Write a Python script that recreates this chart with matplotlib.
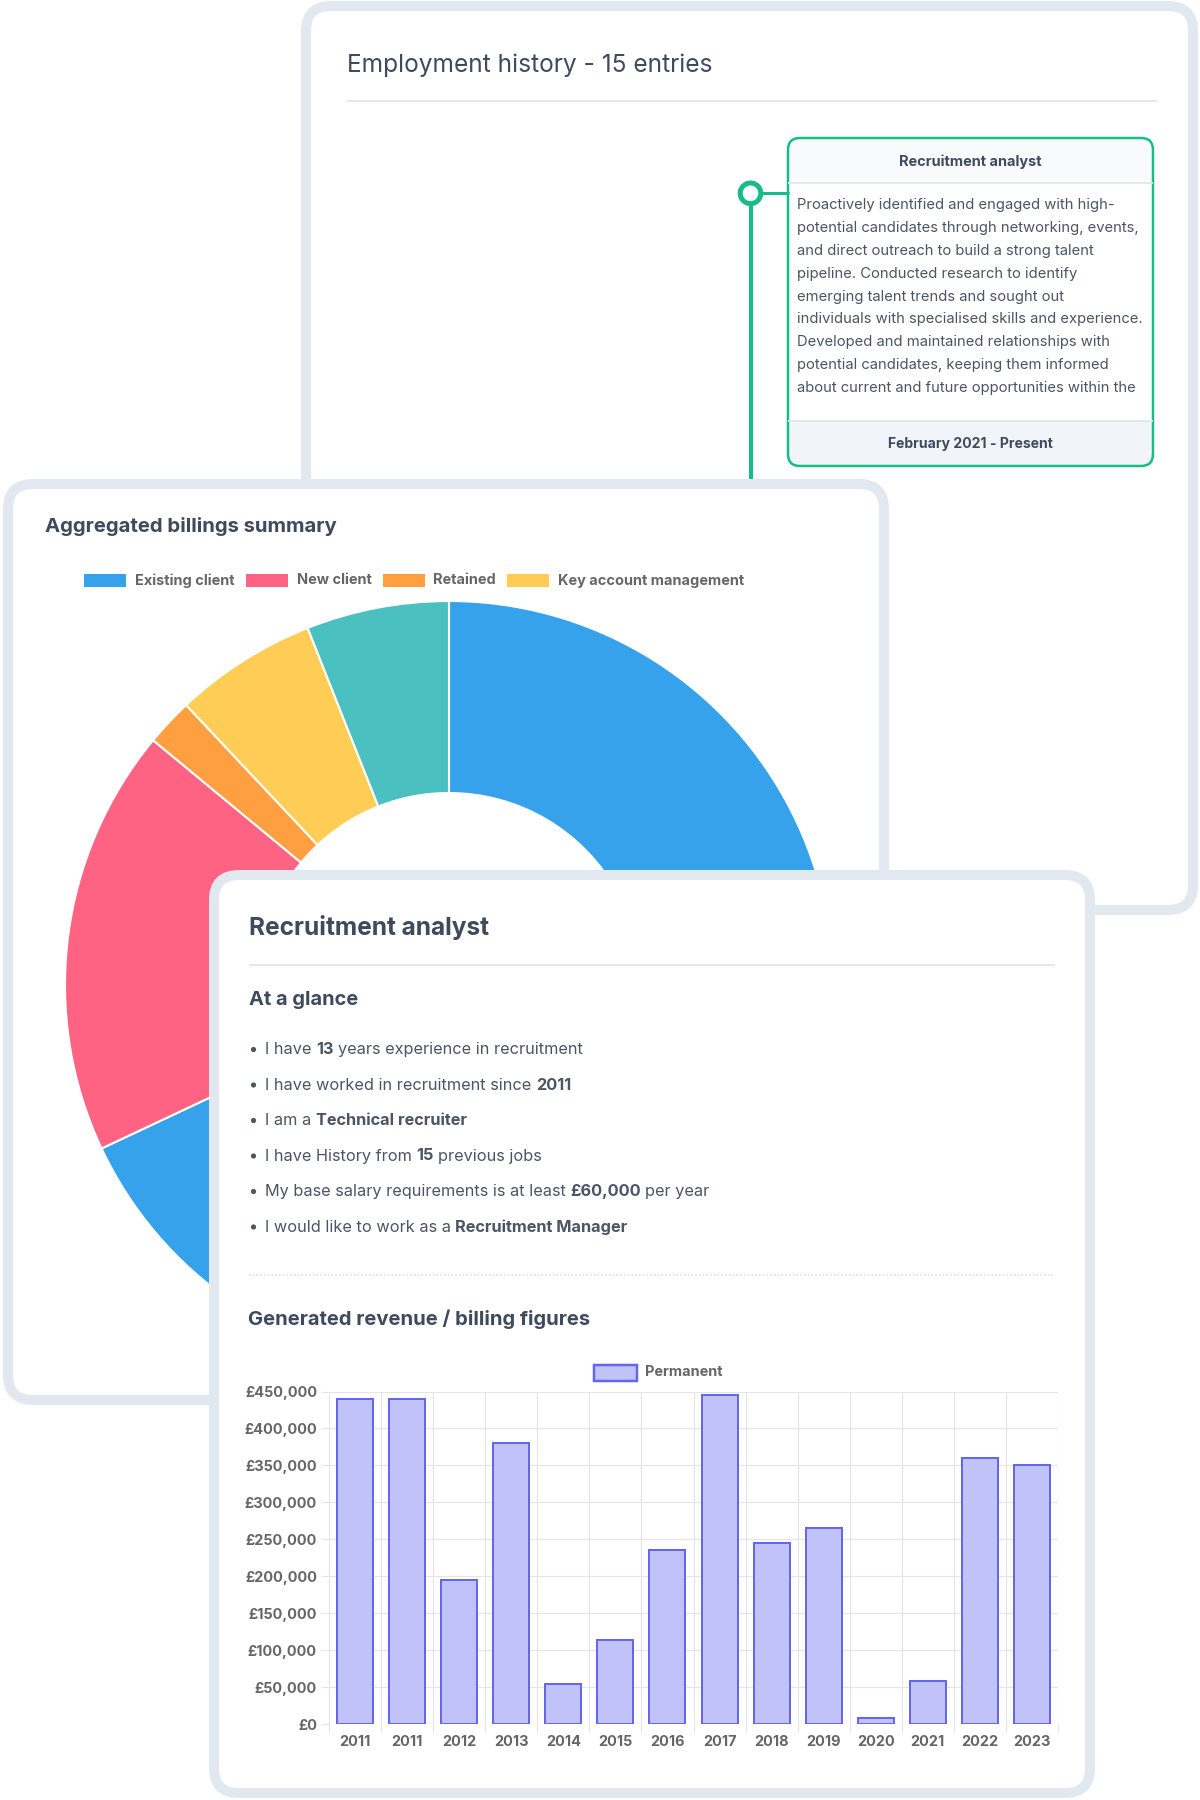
import matplotlib
matplotlib.use("Agg")
import matplotlib.pyplot as plt
from matplotlib.patches import FancyBboxPatch, Rectangle, Circle

plt.rcParams["font.family"] = ["Inter", "DejaVu Sans"]

W, H = 1200, 1800

# --- data -----------------------------------------------------------------
HISTORY_TITLE = "Employment history - 15 entries"
JOB_TITLE = "Recruitment analyst"
JOB_DATES = "February 2021 - Present"
JOB_TEXT = [
    "Proactively identified and engaged with high-",
    "potential candidates through networking, events,",
    "and direct outreach to build a strong talent",
    "pipeline. Conducted research to identify",
    "emerging talent trends and sought out",
    "individuals with specialised skills and experience.",
    "Developed and maintained relationships with",
    "potential candidates, keeping them informed",
    "about current and future opportunities within the",
]

BILLING_TITLE = "Aggregated billings summary"
BILLING_LABELS = ["Existing client", "New client", "Retained", "Key account management"]
BILLING_SHARES = [68, 18, 2, 6, 6]
BILLING_COLORS = ["#36a2eb", "#ff6384", "#ff9f40", "#ffcd56", "#4bc0c0"]

PROFILE_TITLE = "Recruitment analyst"
GLANCE_TITLE = "At a glance"
GLANCE_ITEMS = [
    [("I have ", False), ("13", True), (" years experience in recruitment", False)],
    [("I have worked in recruitment since ", False), ("2011", True)],
    [("I am a ", False), ("Technical recruiter", True)],
    [("I have History from ", False), ("15", True), (" previous jobs", False)],
    [("My base salary requirements is at least ", False), ("£60,000", True), (" per year", False)],
    [("I would like to work as a ", False), ("Recruitment Manager", True)],
]

REVENUE_TITLE = "Generated revenue / billing figures"
REVENUE_SERIES = "Permanent"
YEARS = ["2011", "2011", "2012", "2013", "2014", "2015", "2016",
         "2017", "2018", "2019", "2020", "2021", "2022", "2023"]
REVENUE = [440000, 440000, 195000, 380000, 54000, 114000, 235000,
           445000, 245000, 265000, 8000, 58000, 360000, 350000]
Y_TICKS = [0, 50000, 100000, 150000, 200000, 250000, 300000, 350000, 400000, 450000]

# --- style ----------------------------------------------------------------
BORDER = "#e2e8f0"
HEAD = "#3f4a5c"
BODY = "#4b5563"
GREEN = "#17bd86"
CHART_TXT = "#666666"
GRID = "#e5e5e5"
BAR_FILL = "#c1c2f8"
BAR_EDGE = "#6466f1"


def pt(px):
    return px * 0.72


fig = plt.figure(figsize=(12, 18), dpi=100)
fig.patch.set_facecolor("white")


def layer(z):
    ax = fig.add_axes([0, 0, 1, 1], zorder=z)
    ax.set_xlim(0, W)
    ax.set_ylim(H, 0)
    ax.axis("off")
    ax.patch.set_alpha(0)
    return ax


def card(ax, x0, y0, x1, y1, r=30, b=10):
    p = FancyBboxPatch((x0 + b / 2, y0 + b / 2), x1 - x0 - b, y1 - y0 - b,
                       boxstyle=f"round,pad=0,rounding_size={r - b / 2}",
                       fc="white", ec=BORDER, lw=pt(b))
    ax.add_patch(p)


def rich(ax, x, y, parts, size, color):
    prev = None
    trail = False
    for text, bold in parts:
        kw = dict(fontsize=size, color=color, fontweight="bold" if bold else "normal",
                  va="center", ha="left")
        t = text.strip()
        if prev is None:
            prev = ax.text(x, y, t, **kw)
        else:
            gap = size * 0.27 if (trail or text.startswith(" ")) else 0
            prev = ax.annotate(t, xy=(1, 0.5), xycoords=prev, xytext=(gap, 0),
                               textcoords="offset points", **kw)
        trail = text.endswith(" ")


# --- card 1: employment history -------------------------------------------
a1 = layer(1)
card(a1, 301, 1, 1198, 915)
a1.text(347, 65, HISTORY_TITLE, fontsize=pt(24.5), color=HEAD, va="center", ha="left")
a1.plot([347, 1157], [100.5, 100.5], color=BORDER, lw=pt(2), solid_capstyle="butt")

a1.plot([750.5, 750.5], [203, 905], color=GREEN, lw=pt(4), solid_capstyle="butt")
a1.plot([762, 789], [193.3, 193.3], color=GREEN, lw=pt(3), solid_capstyle="butt")
a1.add_patch(Circle((750.5, 193.3), 10.3, fc="white", ec=GREEN, lw=pt(5)))

box = FancyBboxPatch((788, 138), 365, 328, boxstyle="round,pad=0,rounding_size=12",
                     fc="white", ec="none")
a1.add_patch(box)
for y0, y1, c in ((138, 183, "#f8fafc"), (421, 466, "#f1f5f9")):
    r = Rectangle((788, y0), 365, y1 - y0, fc=c, ec="none")
    a1.add_patch(r)
    r.set_clip_path(box)
for y in (183, 421):
    a1.plot([788, 1153], [y, y], color=BORDER, lw=pt(2), solid_capstyle="butt")
a1.add_patch(FancyBboxPatch((788, 138), 365, 328, boxstyle="round,pad=0,rounding_size=12",
                            fc="none", ec=GREEN, lw=pt(2.5)))
a1.text(970, 162, JOB_TITLE, fontsize=pt(14.5), color=HEAD, fontweight="bold",
        va="center", ha="center")
for i, line in enumerate(JOB_TEXT):
    a1.text(797, 205 + i * 22.9, line, fontsize=pt(14.8), color=BODY, va="center", ha="left")
a1.text(970, 444, JOB_DATES, fontsize=pt(14), color=HEAD, fontweight="bold",
        va="center", ha="center")

# --- card 2: billings doughnut ---------------------------------------------
a2 = layer(2)
card(a2, 3, 479, 889, 1405)
a2.text(45, 527, BILLING_TITLE, fontsize=pt(20.3), color=HEAD, fontweight="bold",
        va="center", ha="left")

renderer = fig.canvas.get_renderer()
lx = 84
for label, color in zip(BILLING_LABELS, BILLING_COLORS):
    a2.add_patch(Rectangle((lx, 574), 42, 13, fc=color, ec=color, lw=0))
    t = a2.text(lx + 51, 580.5, label, fontsize=pt(14.5), color=CHART_TXT,
                fontweight="bold", va="center", ha="left")
    lx = lx + 51 + t.get_window_extent(renderer).width + 11

cx, cy, rad = 449, 985, 384
ax_pie = fig.add_axes([(cx - rad) / W, (H - cy - rad) / H, 2 * rad / W, 2 * rad / H], zorder=3)
ax_pie.pie(BILLING_SHARES, colors=BILLING_COLORS, startangle=90, counterclock=False,
           radius=1, wedgeprops=dict(width=0.5, edgecolor="white", linewidth=1.5))
ax_pie.set_xlim(-1, 1)
ax_pie.set_ylim(-1, 1)
ax_pie.set_aspect("equal")
ax_pie.axis("off")

# --- card 3: profile -------------------------------------------------------
a3 = layer(4)
card(a3, 209, 870, 1095, 1798)
a3.text(249, 928, PROFILE_TITLE, fontsize=pt(24.5), color=HEAD, fontweight="bold",
        va="center", ha="left")
a3.plot([249, 1055], [965, 965], color=BORDER, lw=pt(2), solid_capstyle="butt")
a3.text(249, 1000, GLANCE_TITLE, fontsize=pt(20), color=HEAD, fontweight="bold",
        va="center", ha="left")
for i, parts in enumerate(GLANCE_ITEMS):
    y = 1049.5 + i * 35.5
    a3.add_patch(Circle((253.5, y), 2.6, fc=BODY, ec="none"))
    rich(a3, 265, y, parts, pt(16.3), BODY)
a3.plot([249, 1055], [1275, 1275], color="#d5dbe3", lw=pt(1.5), linestyle=(0, (1, 1.5)))
a3.text(248, 1319, REVENUE_TITLE, fontsize=pt(20.2), color=HEAD, fontweight="bold",
        va="center", ha="left")

a3.add_patch(Rectangle((594, 1365), 43, 15.5, fc=BAR_FILL, ec=BAR_EDGE, lw=pt(2.5)))
a3.text(645, 1372.5, REVENUE_SERIES, fontsize=pt(14.5), color=CHART_TXT,
        fontweight="bold", va="center", ha="left")

# bar chart
left, right, top, zero = 329, 1058, 1391.5, 1724
ax_bar = fig.add_axes([left / W, (H - zero) / H, (right - left) / W, (zero - top) / H], zorder=5)
ax_bar.patch.set_alpha(0)
x = list(range(len(YEARS)))
ax_bar.bar(x, REVENUE, width=0.69, color=BAR_FILL, edgecolor=BAR_EDGE, linewidth=pt(2),
           zorder=3)
ax_bar.set_xlim(-0.5, len(YEARS) - 0.5)
ax_bar.set_ylim(0, 450000)
ax_bar.set_yticks(Y_TICKS)
ax_bar.set_yticklabels([f"£{v:,}" for v in Y_TICKS])
ax_bar.set_xticks(x)
ax_bar.set_xticklabels(YEARS)
ax_bar.set_xticks([i - 0.5 for i in range(len(YEARS) + 1)], minor=True)
for s in ax_bar.spines.values():
    s.set_visible(False)
ax_bar.grid(axis="y", which="major", color=GRID, lw=pt(1.2), zorder=0)
ax_bar.grid(axis="x", which="minor", color=GRID, lw=pt(1.2), zorder=0)
ax_bar.tick_params(axis="y", length=pt(8), width=pt(1.2), color=GRID, pad=pt(4),
                   labelsize=pt(14.5), labelcolor=CHART_TXT)
ax_bar.tick_params(axis="x", which="major", length=0, pad=pt(11),
                   labelsize=pt(14.5), labelcolor=CHART_TXT)
ax_bar.tick_params(axis="x", which="minor", length=pt(8), width=pt(1.2), color=GRID)
for lab in ax_bar.get_yticklabels() + ax_bar.get_xticklabels():
    lab.set_fontweight("bold")

fig.savefig("out.png", dpi=100, facecolor="white")
